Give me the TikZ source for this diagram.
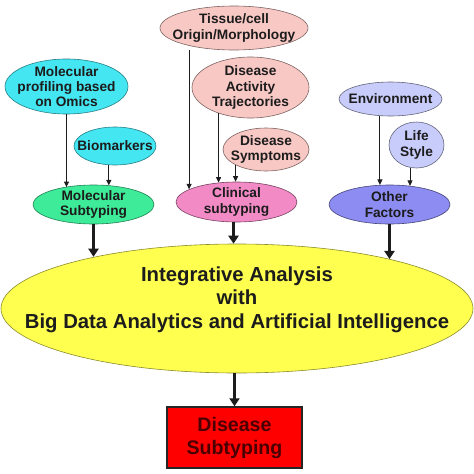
\documentclass[tikz,border=0pt]{standalone}
\usepackage{fontspec}
\setmainfont{Liberation Sans}
\usepackage{xcolor}
\usetikzlibrary{arrows.meta,shapes.geometric}
\definecolor{omicscyan}{HTML}{44E6F2}
\definecolor{molgreen}{HTML}{3DEB98}
\definecolor{clinrose}{HTML}{F8C8C4}
\definecolor{clinpink}{HTML}{F28AC6}
\definecolor{envlilac}{HTML}{C8CCFA}
\definecolor{envblue}{HTML}{8C8CF2}
\definecolor{hubyellow}{HTML}{FFFF50}
\definecolor{diagink}{HTML}{1C1C1C}
\definecolor{outred}{HTML}{4A0000}
\tikzset{
  blob/.style={ellipse,inner sep=0pt,line width=0.6pt},
  blobtext/.style={align=center,text=diagink,
                   font=\fontsize{13.7}{15.3}\selectfont\bfseries},
  hubtext/.style={align=center,text=diagink,
                  font=\fontsize{20.3}{23.3}\selectfont\bfseries},
  thinarrow/.style={-{Triangle[length=5.5pt,width=5pt]},line width=1pt,draw=diagink},
  thickarrow/.style={-{Triangle[length=8pt,width=10pt]},line width=2.2pt,draw=diagink},
}

\begin{document}
\begin{tikzpicture}[x=1pt,y=-1pt]
  \useasboundingbox (0,0) rectangle (474,474);
  % molecular column
  \node[blob, fill=omicscyan, draw=omicscyan!55!black, minimum width=123pt, minimum height=55pt,
    label={[blobtext]center:Molecular\\profiling based\\on Omics}] (omics) at (66.5,86.5) {};
  \node[blob, fill=omicscyan, draw=omicscyan!55!black, minimum width=82pt, minimum height=38pt,
    label={[blobtext]center:Biomarkers}] (bmark) at (115,146) {};
  \node[blob, fill=molgreen, draw=molgreen!55!black, minimum width=121pt, minimum height=39pt,
    label={[blobtext]center:Molecular\\Subtyping}] (molsub) at (93.5,204.5) {};
  % clinical column
  \node[blob, fill=clinrose, draw=clinrose!50!black, minimum width=148pt, minimum height=44pt,
    label={[blobtext]center:Tissue/cell\\Origin/Morphology}] (tissue) at (234,28) {};
  \node[blob, fill=clinrose, draw=clinrose!50!black, minimum width=117pt, minimum height=61pt,
    label={[blobtext]center:Disease\\Activity\\Trajectories}] (activ) at (250.5,87.5) {};
  \node[blob, fill=clinrose, draw=clinrose!50!black, minimum width=86pt, minimum height=43pt,
    label={[blobtext]center:Disease\\Symptoms}] (sympt) at (266,149.5) {};
  \node[blob, fill=clinpink, draw=clinpink!50!black, minimum width=121pt, minimum height=40pt,
    label={[blobtext]center:Clinical\\subtyping}] (clinsub) at (236.5,202) {};
  % other factors column
  \node[blob, fill=envlilac, draw=envlilac!50!black, minimum width=103pt, minimum height=34pt,
    label={[blobtext]center:Environment}] (envir) at (390.5,99) {};
  \node[blob, fill=envlilac, draw=envlilac!50!black, minimum width=55pt, minimum height=46pt,
    label={[blobtext]center:Life\\Style}] (lifest) at (416.5,145) {};
  \node[blob, fill=envblue, draw=envblue!50!black, minimum width=121pt, minimum height=39pt,
    label={[blobtext]center:Other\\Factors}] (otherf) at (389.5,204.5) {};
  % integration and result
  \node[blob, fill=hubyellow, draw=hubyellow!55!black, minimum width=472pt, minimum height=129pt,
    label={[hubtext,yshift=9pt]center:Integrative Analysis\\with\\Big Data Analytics and Artificial Intelligence}]
    (hub) at (237,308.5) {};
  \node[draw=black!85, line width=1.4pt, fill=red, minimum width=135pt, minimum height=61pt,
    align=center, text=outred, font=\fontsize{19.6}{23}\selectfont\bfseries, xshift=5pt]
    (dsub) at (229.5,437.5) {Disease\\Subtyping};
  % feeding arrows
  \draw[thinarrow] (omics.south) -- (omics.south |- molsub.149);
  \draw[thinarrow] (bmark.252) -- (bmark.252 |- molsub.51);
  \draw[thinarrow] (tissue.south -| clinsub.165) -- (clinsub.165);
  \draw[thinarrow] (activ.219) -- (activ.219 |- clinsub.132);
  \draw[thinarrow] (sympt.207) -- (sympt.207 |- clinsub.north);
  \draw[thinarrow] (envir.238) -- (envir.238 |- otherf.116);
  \draw[thinarrow] (lifest.254) -- (lifest.254 |- otherf.42);
  \draw[thickarrow] (molsub.south) -- (molsub.south |- hub.160);
  \draw[thickarrow] ([xshift=-3pt]clinsub.south) -- ([xshift=-3pt]clinsub.south |- hub.north);
  \draw[thickarrow] (otherf.south) -- (otherf.south |- hub.18);
  \draw[thickarrow] (hub.south -| dsub.north) -- (dsub.north);
\end{tikzpicture}
\end{document}
